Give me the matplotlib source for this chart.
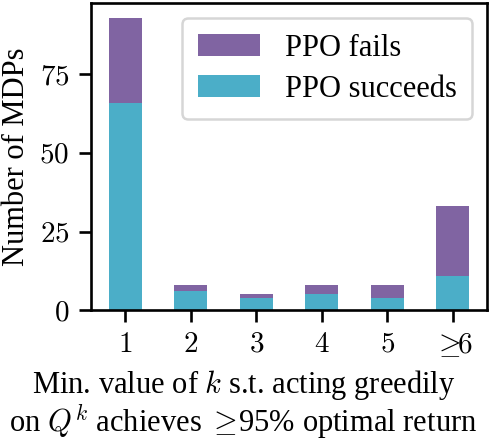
import numpy as np
import matplotlib
matplotlib.use("Agg")
import matplotlib.pyplot as plt

plt.rcParams['font.family'] = 'serif'
plt.rcParams['font.serif'] = ['Liberation Serif']
plt.rcParams['mathtext.fontset'] = 'cm'
plt.rcParams['font.size'] = 22

categories = ['$1$', '$2$', '$3$', '$4$', '$5$', r'$\geq\!\!6$']
succeeds = [66, 6, 4, 5, 4, 11]
fails = [27, 2, 1, 3, 4, 22]
yticks = [0, 25, 50, 75]

c_fail = '#8064a2'
c_succ = '#4baec8'

fig, ax = plt.subplots(figsize=(4.92, 4.43), dpi=100)
x = np.arange(len(categories))
ax.bar(x, fails, 0.5, bottom=succeeds, color=c_fail, label='PPO fails')
ax.bar(x, succeeds, 0.5, color=c_succ, label='PPO succeeds')

ax.set_xticks(x)
ax.set_xticklabels(categories, fontsize=21)
ax.set_yticks(yticks)
ax.set_yticklabels(['$%d$' % v for v in yticks], fontsize=21)
ax.set_ylabel('Number of MDPs', labelpad=6)
ax.set_xlabel('Min. value of $k$ s.t. acting greedily\non $Q^k$ achieves $\\geq\\!$95% optimal return',
              linespacing=1.0)
ax.xaxis.set_label_coords(0.385, -0.188, transform=ax.transAxes)
ax.xaxis.label.set_va('top')
for s in ax.spines.values():
    s.set_linewidth(1.9)
ax.tick_params(width=1.9, length=8.5, pad=7)
leg = ax.legend(loc='upper right', fontsize=22, handlelength=2.03, handletextpad=0.82,
                borderaxespad=0.5, borderpad=0.5, labelspacing=0.4)
leg.get_frame().set_linewidth(1.8)

plt.subplots_adjust(left=0.185, right=0.99, top=0.993, bottom=0.3)
plt.savefig('out.png')
